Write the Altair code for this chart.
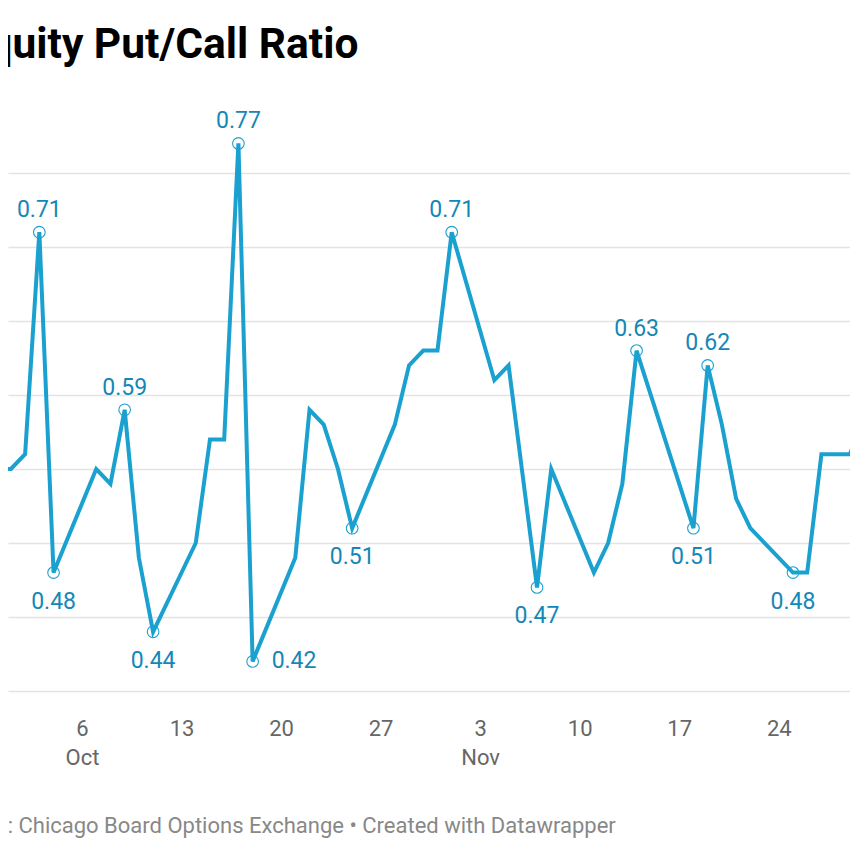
import altair as alt
import pandas as pd

# ---- data (dates as placed on the Datawrapper axis) ----
dates = [
    "2014-09-30", "2014-10-01", "2014-10-02", "2014-10-03", "2014-10-04",
    "2014-10-07", "2014-10-08", "2014-10-09", "2014-10-10", "2014-10-11",
    "2014-10-14", "2014-10-15", "2014-10-16", "2014-10-17", "2014-10-18",
    "2014-10-21", "2014-10-22", "2014-10-23", "2014-10-24", "2014-10-25",
    "2014-10-28", "2014-10-29", "2014-10-30", "2014-10-31", "2014-11-01",
    "2014-11-04", "2014-11-05", "2014-11-07", "2014-11-08",
    "2014-11-11", "2014-11-12", "2014-11-13", "2014-11-14",
    "2014-11-18", "2014-11-19", "2014-11-20", "2014-11-21", "2014-11-22",
    "2014-11-25", "2014-11-26", "2014-11-27", "2014-11-29", "2014-12-02",
]
values = [
    0.55, 0.55, 0.56, 0.71, 0.48,
    0.55, 0.54, 0.59, 0.49, 0.44,
    0.50, 0.57, 0.57, 0.77, 0.42,
    0.49, 0.59, 0.58, 0.55, 0.51,
    0.58, 0.62, 0.63, 0.63, 0.71,
    0.61, 0.62, 0.47, 0.55,
    0.48, 0.50, 0.54, 0.63,
    0.51, 0.62, 0.58, 0.53, 0.51,
    0.48, 0.48, 0.56, 0.56, 0.63,
]

above_dates = ["2014-10-03", "2014-10-09", "2014-10-17", "2014-11-01", "2014-11-14", "2014-11-19"]
below_dates = ["2014-10-04", "2014-10-11", "2014-10-25", "2014-11-07", "2014-11-18", "2014-11-25"]
right_dates = ["2014-10-18"]

tick_dates = [
    "2014-09-29", "2014-10-06", "2014-10-13", "2014-10-20", "2014-10-27",
    "2014-11-03", "2014-11-10", "2014-11-17", "2014-11-24", "2014-12-01",
]
y_ticks = [0.40, 0.45, 0.50, 0.55, 0.60, 0.65, 0.70, 0.75]

title_text = "Equity Put/Call Ratio"
source_text = "Source: Chicago Board Options Exchange \u2022 Created with Datawrapper"

LINE = "#1aa1d0"
LABEL = "#1587b6"

df = pd.DataFrame({"date": dates, "value": values})


def lab_kind(d):
    if d in above_dates:
        return "above"
    if d in below_dates:
        return "below"
    if d in right_dates:
        return "right"
    return ""


df["lab"] = [lab_kind(d) for d in dates]

day_ms = 86400000
ref_ms = int(pd.Timestamp("2014-10-06").value // 10**6)
x_domain = [ref_ms - 5.204 * day_ms, ref_ms + 54.01 * day_ms]


def dt(s):
    t = pd.Timestamp(s)
    return alt.DateTime(year=t.year, month=t.month, date=t.day, utc=True)


x_enc = alt.X(
    "date:T",
    scale=alt.Scale(type="utc", domain=x_domain),
    axis=alt.Axis(
        values=[dt(s) for s in tick_dates],
        labelExpr="[utcFormat(datum.value, '%-d'), (utcdate(datum.value) <= 7 || utcmonth(datum.value) == 8) ? utcFormat(datum.value, '%b') : '']",
        labelFont="Roboto",
        labelFontSize=22,
        labelColor="#666666",
        labelLineHeight=29,
        labelPadding=27,
        labelFlush=False,
        labelOverlap=False,
        labelBound=False,
        labelBaseline="top",
        domain=False,
        ticks=False,
        tickSize=0,
        grid=False,
        title=source_text,
        titleFont="Roboto",
        titleFontSize=22,
        titleFontWeight="normal",
        titleColor="#888888",
        titleAnchor="start",
        titleAlign="left",
        titleBaseline="alphabetic",
        titleX=-69,
        titleY=141,
    ),
)

y_enc = alt.Y(
    "value:Q",
    scale=alt.Scale(domain=[0.40, 0.80], nice=False, zero=False),
    axis=alt.Axis(
        values=y_ticks,
        format=".2f",
        grid=True,
        gridColor="#e3e3e3",
        gridWidth=1.3,
        domain=False,
        ticks=False,
        labelFont="Roboto",
        labelFontSize=20,
        labelColor="#666666",
        labelPadding=10,
        title=None,
    ),
)

base = alt.Chart(df).encode(x=x_enc, y=y_enc)

line = base.mark_line(color=LINE, strokeWidth=4, clip=True)

labelled = base.transform_filter(alt.datum.lab != "")

points = labelled.mark_point(
    shape="circle", filled=False, size=135, strokeWidth=1.1, color=LINE, opacity=1, clip=True
)

txt_style = dict(font="Roboto", fontSize=23, color=LABEL, clip=False)

text_above = labelled.transform_filter(alt.datum.lab == "above").mark_text(
    align="center", baseline="alphabetic", dy=-15, **txt_style
).encode(text=alt.Text("value:Q", format=".2f"))

text_below = labelled.transform_filter(alt.datum.lab == "below").mark_text(
    align="center", baseline="alphabetic", dy=36, **txt_style
).encode(text=alt.Text("value:Q", format=".2f"))

text_right = labelled.transform_filter(alt.datum.lab == "right").mark_text(
    align="left", baseline="middle", dx=19, **txt_style
).encode(text=alt.Text("value:Q", format=".2f"))

chart = (
    alt.layer(line, points, text_above, text_below, text_right)
    .properties(
        width=842,
        height=592,
        padding={"left": 0, "top": 91, "right": 0, "bottom": 155},
        autosize=alt.AutoSizeParams(type="none"),
        title=alt.TitleParams(
            title_text,
            anchor="start",
            frame="group",
            dx=-43,
            dy=2,
            offset=1,
            baseline="alphabetic",
            font="Roboto",
            fontSize=42.5,
            fontWeight="bold",
            color="#000000",
        ),
    )
    .configure_view(stroke=None)
)

chart.save("out.html", embed_options={"renderer": "svg", "actions": False})
